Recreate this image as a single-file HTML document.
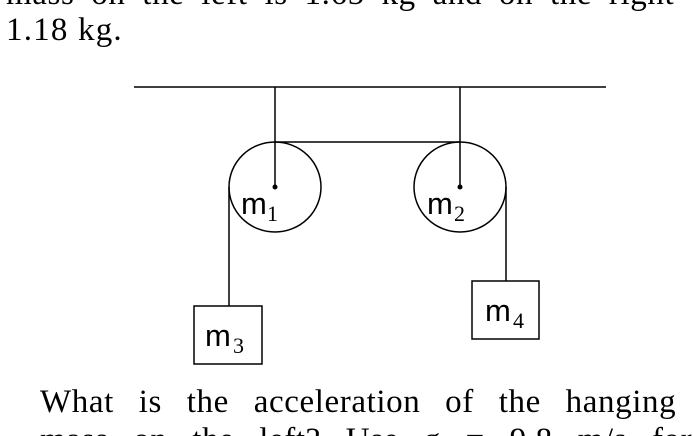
<!DOCTYPE html>
<html><head><style>
html,body{margin:0;padding:0;background:#fff;width:693px;height:436px;overflow:hidden;position:relative}
.t{position:absolute;font-family:"Liberation Serif",serif;font-size:33px;color:#000;white-space:nowrap;letter-spacing:0.6px;overflow:hidden;right:0}
</style></head><body>
<div class="t" style="left:6px;top:-24px;word-spacing:8px;">mass on the left is 1.65 kg and on the right</div>
<div class="t" style="left:6px;top:12px;letter-spacing:1.2px;">1.18 kg.</div>
<svg width="693" height="436" style="position:absolute;left:0;top:0" xmlns="http://www.w3.org/2000/svg">
<g stroke="#000" stroke-width="1.5" fill="none">
<line x1="134" y1="87" x2="606" y2="87"/>
<line x1="275" y1="87" x2="275" y2="187"/>
<line x1="460" y1="87" x2="460" y2="187"/>
<line x1="275" y1="142" x2="460" y2="142"/>
<ellipse cx="275" cy="187" rx="46" ry="45"/>
<ellipse cx="460" cy="187" rx="46" ry="45"/>
<line x1="229" y1="187" x2="229" y2="306"/>
<line x1="506" y1="187" x2="506" y2="281"/>
<rect x="194" y="306" width="68" height="58"/>
<rect x="472" y="281" width="67" height="58"/>
</g>
<circle cx="275" cy="187" r="2.5"/>
<circle cx="460" cy="187" r="2.5"/>
<g font-family="Liberation Sans, sans-serif" font-size="31">
<text x="241" y="214">m</text><text x="427" y="214">m</text>
<text x="205" y="346">m</text><text x="485" y="321">m</text>
</g>
<g font-family="Liberation Serif, serif" font-size="22">
<text x="267" y="221">1</text><text x="454" y="221">2</text>
<text x="233" y="353">3</text><text x="513" y="328">4</text>
</g>
</svg>
<div class="t" style="left:40px;top:384px;word-spacing:16px;">What is the acceleration of the hanging</div>
<div class="t" style="left:40px;top:422px;word-spacing:16px;">mass on the left? Use g = 9.8 m/s for the</div>
</body></html>
